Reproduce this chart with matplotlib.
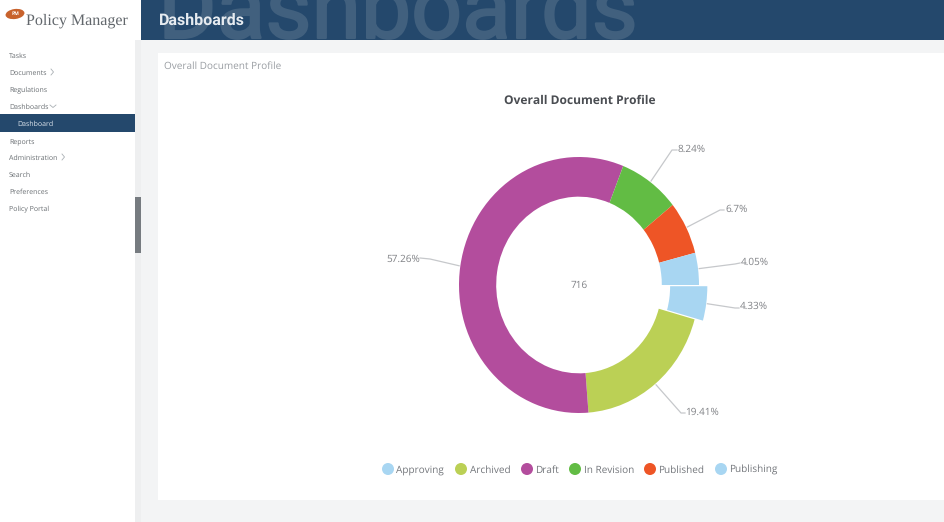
import numpy as np
import matplotlib
matplotlib.use("Agg")
import matplotlib.pyplot as plt
from matplotlib.patches import Rectangle, Ellipse
import matplotlib.patheffects as pe

categories = ["Approving", "Archived", "Draft", "In Revision", "Published", "Publishing"]
values = [4.33, 19.41, 57.26, 8.24, 6.70, 4.05]
value_labels = ["4.33%", "19.41%", "57.26%", "8.24%", "6.7%", "4.05%"]
colors = ["#a8d6f2", "#bbd055", "#b34d9d", "#62bc44", "#ee5526", "#a8d6f2"]
explode = [0.07, 0, 0, 0, 0, 0]
total_label = "716"
menu_items = ["Tasks", "Documents", "Regulations", "Dashboards", "Dashboard", "Reports",
              "Administration", "Search", "Preferences", "Policy Portal"]

W, H = 944, 522
plt.rcParams["font.family"] = ["Open Sans", "DejaVu Sans"]
plt.rcParams["text.hinting"] = "no_hinting"
plt.rcParams["text.hinting_factor"] = 1
fig = plt.figure(figsize=(W / 100, H / 100), dpi=100, facecolor="#f3f4f5")

def pt(px):
    return px * 72 / 100

# Page chrome, in pixel coordinates
bg = fig.add_axes([0, 0, 1, 1], zorder=0)
bg.set_xlim(0, W); bg.set_ylim(H, 0); bg.axis("off")
NAVY = "#24486c"
bg.add_patch(Rectangle((0, 0), 141, H, fc="white", ec="none"))
bg.add_patch(Rectangle((141, 0), W - 141, 40, fc=NAVY, ec="none"))
bg.add_patch(Rectangle((158, 53), W - 158, 447, fc="white", ec="none"))
bg.add_patch(Rectangle((135, 40), 6, H - 40, fc="#eeeff0", ec="none"))
bg.add_patch(Rectangle((135, 197), 6, 56, fc="#767b80", ec="none"))
bg.add_patch(Rectangle((0, 114), 135, 18, fc=NAVY, ec="none"))

clip = Rectangle((141, 0), W - 141, 40, transform=bg.transData)
ghost = bg.text(158, 38, "Dashboards", fontsize=pt(89.5), color="#41607e", family="Roboto",
                va="baseline", ha="left", clip_on=True,
                path_effects=[pe.withStroke(linewidth=1.5, foreground="#41607e")])
ghost.set_clip_path(clip)

bg.text(159, 24.5, "Dashboards", fontsize=pt(15.5), color="#e6ebf0", family="Roboto",
        fontweight="bold", va="baseline", ha="left")

bg.add_patch(Ellipse((15, 14), 19, 10, angle=-8, fc="#c8622c", ec="none"))
bg.text(15, 14, "PM", fontsize=pt(5), color="white", ha="center", va="center", fontweight="bold")
bg.text(26, 25, "Policy Manager", fontsize=pt(16.3), color="#62676c", family="Liberation Serif",
        va="baseline", ha="left")

menu_y = [58, 75, 92, 109, 126, 143, 160, 177, 194, 211]
for name, y in zip(menu_items, menu_y):
    active = name == "Dashboard"
    bg.text(17 if active else 9, y, name, fontsize=pt(7.0),
            color="#dfe6ee" if active else "#6a6f73", va="baseline", ha="left")
for x, y, rot in [(52, 72, 0), (63, 157, 0), (53, 106, 1)]:
    if rot:
        bg.plot([x - 3, x, x + 3], [y - 1, y + 1.5, y - 1], color="#aab0b5", lw=0.6)
    else:
        bg.plot([x - 1, x + 1.5, x - 1], [y - 3, y, y + 3], color="#aab0b5", lw=0.6)

bg.text(164, 69, "Overall Document Profile", fontsize=pt(9.6), color="#9a9ea3", va="baseline", ha="left")
bg.text(579.5, 104, "Overall Document Profile", fontsize=pt(12.2), color="#4a4d52",
        fontweight="bold", va="baseline", ha="center")

# Donut
cx, cy, rx, ry = 579.0, 285.0, 120.0, 128.0
span = 1.6
ax = fig.add_axes([(cx - rx * span) / W, 1 - (cy + ry * span) / H,
                   2 * rx * span / W, 2 * ry * span / H], zorder=1)
wedges, _ = ax.pie(values, colors=colors, explode=explode, startangle=0, counterclock=False,
                   radius=1.0, wedgeprops=dict(width=0.31, edgecolor="none"))
ax.set_aspect("auto")
ax.set_xlim(-span, span); ax.set_ylim(-span, span)
ax.axis("off")

# Leader lines: start on each slice's outer edge, elbow, then run to the label
label_pos = {"4.33%": (740, 309), "19.41%": (685, 415), "57.26%": (386, 262),
             "8.24%": (678, 152), "6.7%": (725, 212), "4.05%": (741, 265)}
elbow_pos = {"4.33%": (735, 308), "19.41%": (681, 413), "57.26%": (430, 259),
             "8.24%": (672, 150), "6.7%": (720, 210), "4.05%": (735, 264)}
line_end = {"4.33%": (739, 308), "19.41%": (685, 413), "57.26%": (420, 258),
            "8.24%": (677, 150), "6.7%": (724, 210), "4.05%": (740, 263)}
overlay = fig.add_axes([0, 0, 1, 1], zorder=2)
overlay.set_xlim(0, W); overlay.set_ylim(H, 0); overlay.axis("off")
for w, lab, ex in zip(wedges, value_labels, explode):
    mid = np.deg2rad((w.theta1 + w.theta2) / 2)
    sx = cx + (1 + ex + 0.01) * rx * np.cos(mid)
    sy = cy - (1 + ex + 0.01) * ry * np.sin(mid)
    e = elbow_pos[lab]; t = line_end[lab]
    overlay.plot([sx, e[0], t[0]], [sy, e[1], t[1]], color="#c6c8cb", lw=0.9)
    tx, ty = label_pos[lab]
    overlay.text(tx, ty, lab, fontsize=pt(10.3), color="#808286", va="baseline", ha="left")

overlay.text(579.5, 287.5, total_label, fontsize=pt(10), color="#808286", ha="center", va="baseline")

# Legend
legend_x = [388, 461, 527, 575, 650, 721]
for name, col, x in zip(categories, colors, legend_x):
    overlay.add_patch(Ellipse((x, 469), 12, 12, fc=col, ec="none"))
    overlay.text(x + 8.5, 472.6, name, fontsize=pt(10.3), color="#74777c", va="baseline", ha="left")

fig.savefig("out.png", dpi=100, facecolor=fig.get_facecolor())
